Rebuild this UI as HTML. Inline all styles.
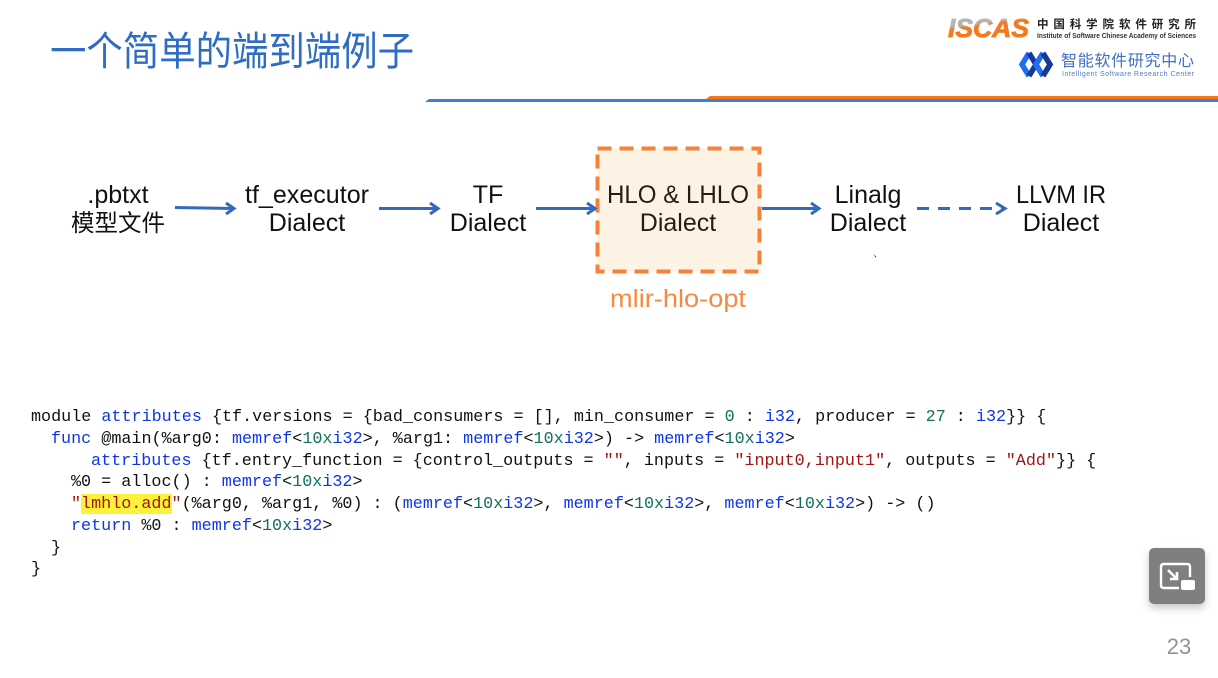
<!DOCTYPE html>
<html><head><meta charset="utf-8">
<style>
html,body{margin:0;padding:0;background:#fff}
body{width:1218px;height:678px;overflow:hidden;position:relative}
svg{position:absolute;left:0;top:0}
.l{font-family:"Liberation Sans","Noto Sans CJK SC",sans-serif;font-size:25px;fill:#111;text-anchor:middle}
.c{font-family:"Liberation Mono",monospace;font-size:16.75px;fill:#111;white-space:pre}
.k{fill:#0f35ea}.n{fill:#12705c}.s{fill:#a31515}
</style></head><body>
<svg width="1218" height="678" viewBox="0 0 1218 678" xmlns="http://www.w3.org/2000/svg">
<defs>
<linearGradient id="g" x1="0" y1="0" x2="0.35" y2="1"><stop offset="0" stop-color="#b5b5b5"/><stop offset=".42" stop-color="#b5b5b5"/><stop offset=".5" stop-color="#f47a1c"/><stop offset="1" stop-color="#f47a1c"/></linearGradient>
<filter id="sh" x="-20%" y="-20%" width="140%" height="150%"><feDropShadow dx="0" dy="4" stdDeviation="4" flood-color="#000" flood-opacity=".22"/></filter>
</defs>

<text x="50" y="65" textLength="364" lengthAdjust="spacingAndGlyphs" style="font-family:'Noto Sans CJK SC',sans-serif;font-size:40px;fill:#2f6cc4">一个简单的端到端例子</text>

<polygon points="425,102 429,99 1218,99 1218,102" fill="#3a80d8"/>
<polygon points="706,99 710,96 1218,96 1218,99" fill="#f5741f"/>

<!-- logos -->
<text x="948" y="37" textLength="81" lengthAdjust="spacingAndGlyphs" fill="url(#g)" stroke="url(#g)" stroke-width=".8" style="font-family:'Liberation Sans',sans-serif;font-size:26px;font-weight:bold;font-style:italic">ISCAS</text>
<text x="1037" y="28" textLength="159" style="font-family:'Noto Sans CJK SC',sans-serif;font-size:11.5px;font-weight:bold;fill:#222">中国科学院软件研究所</text>
<text x="1037" y="38" textLength="159" lengthAdjust="spacingAndGlyphs" style="font-family:'Liberation Sans',sans-serif;font-size:7px;font-weight:bold;fill:#333">Institute of Software Chinese Academy of Sciences</text>
<g fill="none" stroke-width="5.500">
<path d="M1029 53 L1022 64.500 L1029 76" stroke="#1f6ff0"/>
<path d="M1029 53 L1036 64.500 L1029 76" stroke="#16389a"/>
<path d="M1043 53 L1036 64.500 L1043 76" stroke="#1f6ff0"/>
<path d="M1043 53 L1050 64.500 L1043 76" stroke="#16389a"/>
</g>
<text x="1061" y="66" textLength="133" style="font-family:'Noto Sans CJK SC',sans-serif;font-size:16px;fill:#3f6fc4">智能软件研究中心</text>
<text x="1062" y="76" textLength="132" style="font-family:'Liberation Sans',sans-serif;font-size:7px;fill:#4f7cc8">Intelligent  Software  Research  Center</text>

<!-- box -->
<rect x="597.500" y="148.500" width="162" height="123" fill="#fdf3e5" stroke="#f5813a" stroke-width="4" stroke-dasharray="14 8"/>

<!-- labels -->
<text class="l" x="118" y="203">.pbtxt</text>
<text class="l" x="118" y="231" style="font-size:23.500px">模型文件</text>
<text class="l" x="307" y="203" textLength="124" lengthAdjust="spacingAndGlyphs">tf_executor</text>
<text class="l" x="307" y="231">Dialect</text>
<text class="l" x="488" y="203">TF</text>
<text class="l" x="488" y="231">Dialect</text>
<text class="l" x="678" y="203" textLength="142" lengthAdjust="spacingAndGlyphs" style="fill:#2a1a10">HLO &amp; LHLO</text>
<text class="l" x="678" y="231" style="fill:#2a1a10">Dialect</text>
<text class="l" x="868" y="203">Linalg</text>
<text class="l" x="868" y="231">Dialect</text>
<text class="l" x="1061" y="203" textLength="90" lengthAdjust="spacingAndGlyphs">LLVM IR</text>
<text class="l" x="1061" y="231">Dialect</text>
<text class="l" x="678" y="307" textLength="136" lengthAdjust="spacingAndGlyphs" style="fill:#f58a45">mlir-hlo-opt</text>
<path d="M873.500 254 l3 3 -1 .5z" fill="#333"/>

<!-- arrows -->
<g fill="none" stroke="#3568bf" stroke-width="3">
<path d="M175 207.500 L234 208.500"/><path d="M226 203 L234 208.500 L226 214"/>
<path d="M379 208.500 L438 208.500"/><path d="M430 203 L438 208.500 L430 214"/>
<path d="M536 208.500 L595 208.500"/><path d="M587 203 L595 208.500 L587 214"/>
<path d="M762 208.500 L818 208.500"/><path d="M811 203 L819 208.500 L811 214"/>
<path d="M917 208.500 L1004 208.500" stroke-dasharray="12 9"/><path d="M996 203 L1005 208.500 L996 214"/>
</g>

<!-- code -->
<rect x="81" y="494" width="91" height="20" fill="#fdf23a"/>
<text class="c" y="421"><tspan x="31">module </tspan><tspan class="k">attributes</tspan> {tf.versions = {bad_consumers = [], min_consumer = <tspan class="n">0</tspan> : <tspan class="k">i32</tspan>, producer = <tspan class="n">27</tspan> : <tspan class="k">i32</tspan>}} {</text>
<text class="c" y="443"><tspan x="51" class="k">func</tspan> @main(%arg0: <tspan class="k">memref</tspan>&lt;<tspan class="n">10x</tspan><tspan class="k">i32</tspan>&gt;, %arg1: <tspan class="k">memref</tspan>&lt;<tspan class="n">10x</tspan><tspan class="k">i32</tspan>&gt;) -&gt; <tspan class="k">memref</tspan>&lt;<tspan class="n">10x</tspan><tspan class="k">i32</tspan>&gt;</text>
<text class="c" y="465"><tspan x="91" class="k">attributes</tspan> {tf.entry_function = {control_outputs = <tspan class="s">""</tspan>, inputs = <tspan class="s">"input0,input1"</tspan>, outputs = <tspan class="s">"Add"</tspan>}} {</text>
<text class="c" y="486"><tspan x="71">%0 = alloc() : </tspan><tspan class="k">memref</tspan>&lt;<tspan class="n">10x</tspan><tspan class="k">i32</tspan>&gt;</text>
<text class="c" y="508"><tspan x="71" class="s">"lmhlo.add"</tspan>(%arg0, %arg1, %0) : (<tspan class="k">memref</tspan>&lt;<tspan class="n">10x</tspan><tspan class="k">i32</tspan>&gt;, <tspan class="k">memref</tspan>&lt;<tspan class="n">10x</tspan><tspan class="k">i32</tspan>&gt;, <tspan class="k">memref</tspan>&lt;<tspan class="n">10x</tspan><tspan class="k">i32</tspan>&gt;) -&gt; ()</text>
<text class="c" y="530"><tspan x="71" class="k">return</tspan> %0 : <tspan class="k">memref</tspan>&lt;<tspan class="n">10x</tspan><tspan class="k">i32</tspan>&gt;</text>
<text class="c" x="51" y="552">}</text>
<text class="c" x="31" y="573">}</text>

<!-- button -->
<rect x="1149" y="548" width="56" height="56" rx="5" fill="#7f7f7f" filter="url(#sh)"/>
<path d="M1179 588 L1164 588 Q1161 588 1161 585 L1161 567 Q1161 564 1164 564 L1187 564 Q1190 564 1190 567 L1190 577" fill="none" stroke="#fff" stroke-width="2.400"/>
<path d="M1168 570 L1177 579 M1170 579 L1177 579 L1177 572" fill="none" stroke="#fff" stroke-width="2.600"/>
<rect x="1181" y="580" width="14" height="10" rx="2" fill="#fff"/>

<text x="1179" y="654" text-anchor="middle" style="font-family:'Liberation Sans',sans-serif;font-size:22px;fill:#939393">23</text>
</svg>
</body></html>
